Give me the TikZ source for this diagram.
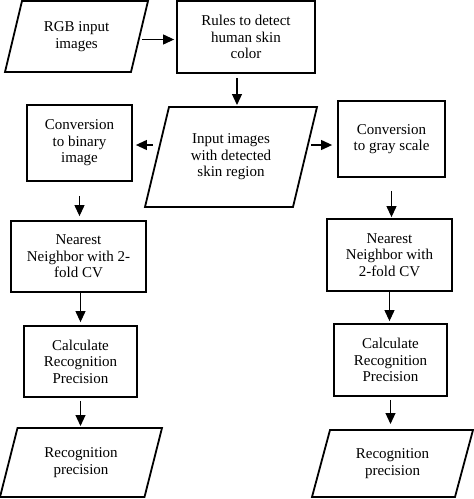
\documentclass[tikz,border=0pt]{standalone}
\usepackage{fontspec}
\setmainfont{Liberation Serif}
\usetikzlibrary{positioning,arrows.meta}

\begin{document}
\begin{tikzpicture}[x=1pt, y=-1pt,
  every node/.style={font=\fontsize{15}{16.5}\selectfont, align=center},
  box/.style={draw, rectangle, line width=1.8pt, inner sep=2pt},
  para/.style={rectangle, inner sep=2pt, outer sep=0pt,
    append after command={\pgfextra{\draw[line width=1.8pt, line join=miter]
      ([xshift=#1]\tikzlastnode.north west) -- (\tikzlastnode.north east)
      -- ([xshift=-#1]\tikzlastnode.south east) -- (\tikzlastnode.south west) -- cycle;}}},
  arr/.style={-{Triangle[length=11pt,width=10pt]}, line width=1.1pt}]
\useasboundingbox (0,0) rectangle (474,499);
\node[para=17pt, minimum width=143pt, minimum height=71pt] (rgb) at (76.5,36.5) {RGB input\\images};
\node[box, minimum width=138pt, minimum height=72pt] (rules) at (246,37) {Rules to detect\\human skin\\color};
\node[para=24pt, minimum width=172pt, minimum height=100pt] (input) at (231,157) {Input images\\with detected\\skin region};
\node[box, minimum width=105pt, minimum height=76pt] (binary) at (79.5,143) {Conversion\\to binary\\image};
\node[box, minimum width=107pt, minimum height=76pt] (gray) at (391.5,139) {Conversion\\to gray scale};
\node[box, minimum width=135pt, minimum height=71pt] (nnl) at (78.5,256.5) {Nearest\\Neighbor with 2-\\fold CV};
\node[box, minimum width=125pt, minimum height=72pt] (nnr) at (389.5,255) {Nearest\\Neighbor with\\2-fold CV};
\node[box, minimum width=113pt, minimum height=71pt] (calcl) at (80.5,361.5) {Calculate\\Recognition\\Precision};
\node[box, minimum width=113pt, minimum height=72pt] (calcr) at (390.5,360) {Calculate\\Recognition\\Precision};
\node[para=17.5pt, minimum width=162pt, minimum height=69pt] (recl) at (81,462.5) {Recognition\\precision};
\node[para=18pt, minimum width=161pt, minimum height=67pt] (recr) at (392.5,463.5) {Recognition\\precision};
% connectors
\draw[arr, shorten >=2pt] ([xshift=-6pt,yshift=-3pt]rgb.east) -- ([yshift=-3pt]rgb.east -| rules.west);
\draw[arr, shorten <=4pt, shorten >=2pt] ([xshift=-9pt]rules.south) -- ([xshift=-9pt]rules.south |- input.north);
\draw[arr, shorten >=3pt] ([xshift=20pt,yshift=-2pt]binary.east) -- ([yshift=-2pt]binary.east);
\draw[arr, shorten >=5pt] ([xshift=-26pt,yshift=-6pt]gray.west) -- ([yshift=-6pt]gray.west);
\draw[arr, shorten <=14pt, shorten >=4pt] (binary) -- (binary |- nnl.north);
\draw[arr, shorten <=13pt, shorten >=1pt] (gray) -- (gray |- nnr.north);
\draw[arr, shorten >=3pt] (nnl.south -| calcl) -- (calcl);
\draw[arr, shorten >=2pt] (nnr) -- (nnr |- calcr.north);
\draw[arr, shorten <=3pt, shorten >=2pt] (calcl) -- (calcl |- recl.north);
\draw[arr, shorten <=3pt, shorten >=6pt] (calcr) -- (calcr |- recr.north);
\end{tikzpicture}
\end{document}
